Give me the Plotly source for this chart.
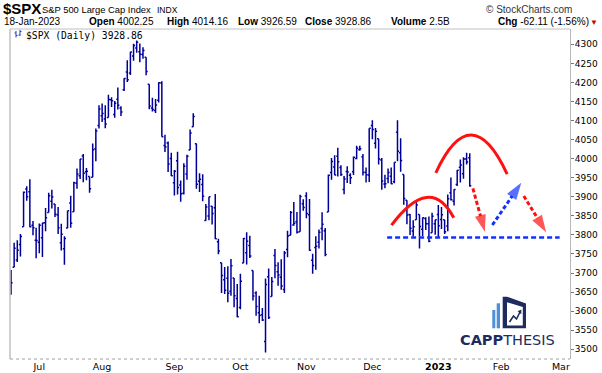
import plotly.graph_objects as go
import pandas as pd

# ---------------- data ----------------
holidays = ["2022-06-20", "2022-07-04", "2022-09-05", "2022-11-24", "2022-12-26",
            "2023-01-02", "2023-01-16", "2023-02-20"]
calendar = [d for d in pd.bdate_range("2022-06-17", "2023-03-10")
            if d.strftime("%Y-%m-%d") not in holidays]

opens = [
    3665.90, 3715.31, 3733.89, 3774.71, 3821.75, 3920.76, 3913.00, 3825.09, 3785.99,
    3781.00, 3792.61, 3831.98, 3858.85, 3888.26, 3880.94, 3851.95, 3779.67, 3763.99, 3818.00,
    3883.79, 3860.73, 3935.32, 3955.47, 4007.36, 3965.72, 3953.22, 3951.43, 4026.13, 4087.33,
    4112.38, 4104.21, 4107.96, 4154.85, 4115.87, 4155.93, 4133.11, 4181.02, 4227.40, 4225.02,
    4269.37, 4290.46, 4280.40, 4273.13, 4266.31, 4195.08, 4133.09, 4126.55, 4153.26, 4198.74,
    4034.58, 4041.25, 4000.67,
    3936.73, 3994.66, 3930.89, 3909.43, 3959.94, 4022.94, 4083.67, 4039.00, 3940.73, 3932.41,
    3838.00, 3849.91, 3875.23, 3871.40, 3782.36, 3727.14, 3682.72, 3686.44, 3651.94, 3687.01,
    3633.48,
    3609.78, 3726.46, 3753.25, 3771.97, 3706.74, 3647.51, 3595.86, 3590.83, 3520.37, 3690.41,
    3638.65, 3746.26, 3703.11, 3689.05, 3657.10, 3762.01, 3799.44, 3825.97, 3834.69, 3808.26,
    3881.85,
    3901.79, 3852.90, 3733.25, 3766.98, 3780.71, 3817.02, 3810.94, 3859.89, 3963.72, 3977.97,
    4006.41, 3976.82, 3919.26, 3966.39, 3956.23, 3965.51, 4000.30, 4023.34, 4005.36, 3964.19,
    3957.18,
    4087.14, 4040.17, 4052.02, 3996.63, 3933.28, 3947.79, 3954.17, 3939.29, 4069.38, 4015.54,
    3958.37, 3890.91, 3853.79, 3810.47, 3839.49, 3853.26, 3815.11, 3843.34, 3829.56, 3805.45,
    3829.06,
    3853.29, 3840.36, 3839.74, 3823.37, 3910.82, 3888.57, 3932.35, 3977.57, 3960.60, 3999.28,
    4002.25,
]
highs = [
    3707.71, 3779.65, 3785.99, 3802.58, 3913.65, 3927.72, 3945.86, 3836.50, 3818.99,
    3829.82, 3832.19, 3870.91, 3910.63, 3918.50, 3880.94, 3873.41, 3829.44, 3796.41, 3863.62,
    3902.44, 3939.81, 3974.13, 3999.29, 4012.44, 3975.30, 3953.22, 4039.56, 4078.95, 4140.15,
    4144.95, 4140.47, 4167.66, 4161.29, 4151.58, 4186.62, 4137.30, 4211.03, 4257.91, 4280.47,
    4301.79, 4325.28, 4302.18, 4292.53, 4266.31, 4195.08, 4159.77, 4156.56, 4200.54, 4203.04,
    4062.99, 4044.98, 4015.37,
    3970.23, 4018.43, 3942.55, 3987.89, 4010.50, 4076.81, 4119.28, 4040.00, 3961.94, 3959.14,
    3880.95, 3900.45, 3876.01, 3907.07, 3790.17, 3727.14, 3715.67, 3717.53, 3736.74, 3687.01,
    3671.44,
    3698.35, 3791.92, 3806.91, 3797.93, 3706.74, 3652.17, 3640.66, 3608.34, 3685.41, 3712.00,
    3689.73, 3762.79, 3728.58, 3736.00, 3757.89, 3810.74, 3862.85, 3886.15, 3859.95, 3905.42,
    3893.73,
    3911.79, 3894.44, 3750.59, 3796.34, 3813.95, 3859.40, 3818.20, 3958.33, 4001.48, 4008.97,
    4028.84, 3983.09, 3954.33, 3979.89, 3962.00, 4005.88, 4033.78, 4034.02, 4012.27, 3976.77,
    4080.11,
    4100.51, 4080.48, 4052.45, 4001.51, 3957.57, 3974.19, 3977.02, 3990.71, 4100.96, 4053.76,
    3958.37, 3890.91, 3854.86, 3838.24, 3889.82, 3853.26, 3845.80, 3846.65, 3848.32, 3858.19,
    3839.85,
    3878.46, 3873.16, 3839.74, 3906.19, 3950.57, 3919.83, 3970.07, 3997.76, 4003.95, 4015.39,
    4014.16,
]
lows = [
    3643.27, 3715.31, 3729.25, 3743.52, 3821.75, 3889.66, 3820.14, 3799.02, 3738.67,
    3752.10, 3742.06, 3809.37, 3858.85, 3869.34, 3847.22, 3802.36, 3759.07, 3721.56, 3817.18,
    3818.63, 3860.73, 3921.03, 3946.71, 3938.24, 3943.46, 3910.74, 3951.43, 3992.97, 4079.22,
    4096.02, 4079.81, 4107.96, 4135.42, 4107.31, 4128.97, 4112.09, 4177.26, 4201.41, 4219.78,
    4256.90, 4277.77, 4253.08, 4261.98, 4218.70, 4129.86, 4124.03, 4119.97, 4147.59, 4057.66,
    4017.42, 3965.21, 3954.53,
    3903.65, 3906.21, 3886.75, 3906.03, 3944.81, 4022.94, 4083.67, 3921.35, 3912.46, 3888.28,
    3837.08, 3838.50, 3827.54, 3789.49, 3749.45, 3647.47, 3644.76, 3623.29, 3640.61, 3610.40,
    3584.13,
    3604.93, 3726.46, 3722.66, 3739.22, 3627.92, 3588.10, 3568.45, 3573.86, 3491.58, 3579.68,
    3638.65, 3686.53, 3666.51, 3656.44, 3647.42, 3741.65, 3799.44, 3824.07, 3803.79, 3808.26,
    3863.18,
    3843.80, 3758.68, 3698.15, 3708.84, 3764.70, 3786.28, 3744.22, 3859.89, 3944.82, 3956.40,
    3953.17, 3954.34, 3906.54, 3935.98, 3933.34, 3956.88, 3998.66, 4020.76, 3955.77, 3937.65,
    3938.58,
    4050.87, 4026.63, 3984.49, 3918.39, 3922.68, 3935.83, 3933.04, 3935.30, 3993.03, 3965.65,
    3879.45, 3827.91, 3800.04, 3795.62, 3839.49, 3764.49, 3797.01, 3813.22, 3780.78, 3805.45,
    3800.34,
    3794.33, 3815.77, 3802.42, 3809.56, 3890.42, 3877.29, 3928.54, 3937.56, 3947.67, 3984.57,
    3926.59,
]
closes = [
    3674.84, 3764.79, 3759.89, 3795.73, 3911.74, 3900.11, 3821.55, 3818.83, 3785.38,
    3825.33, 3831.39, 3845.08, 3902.62, 3899.38, 3854.43, 3818.80, 3801.78, 3790.38, 3863.16,
    3830.85, 3936.69, 3959.90, 3998.95, 3961.63, 3966.84, 3921.05, 4023.61, 4072.43, 4130.29,
    4118.63, 4091.19, 4155.17, 4151.94, 4145.19, 4140.06, 4122.47, 4210.24, 4207.27, 4280.15,
    4297.14, 4305.20, 4274.04, 4283.74, 4228.48, 4137.99, 4128.73, 4140.77, 4199.12, 4057.66,
    4030.61, 3986.16, 3955.00,
    3966.85, 3924.26, 3908.19, 3979.87, 4006.18, 4067.36, 4110.41, 3932.69, 3946.01, 3901.35,
    3873.33, 3899.89, 3855.93, 3789.93, 3757.99, 3693.23, 3655.04, 3647.29, 3719.04, 3640.47,
    3585.62,
    3678.43, 3790.93, 3783.28, 3744.52, 3639.66, 3612.39, 3588.84, 3577.03, 3669.91, 3583.07,
    3677.95, 3719.98, 3695.16, 3665.78, 3752.75, 3797.34, 3859.11, 3830.60, 3807.30, 3901.06,
    3871.98,
    3856.10, 3759.69, 3719.89, 3770.55, 3806.80, 3828.11, 3748.57, 3956.37, 3992.93, 3957.25,
    3991.73, 3958.79, 3946.56, 3965.34, 3949.94, 4003.58, 4027.26, 4026.12, 3963.94, 3957.63,
    4080.11,
    4076.57, 4071.70, 3998.84, 3941.26, 3933.92, 3963.51, 3934.38, 3990.56, 4019.65, 3995.32,
    3895.75, 3852.36, 3817.66, 3821.62, 3878.44, 3822.39, 3844.82, 3829.25, 3783.22, 3849.28,
    3839.50,
    3824.14, 3852.97, 3808.10, 3895.08, 3892.09, 3919.25, 3969.61, 3983.17, 3999.09, 3990.97,
    3928.86,
]

month_ticks = [(2022, 7), (2022, 8), (2022, 9), (2022, 10), (2022, 11), (2022, 12),
               (2023, 1), (2023, 2), (2023, 3)]
month_labels = ["Jul", "Aug", "Sep", "Oct", "Nov", "Dec", "<b>2023</b>", "Feb", "Mar"]

support_level = 3793
y_ticks = list(range(3500, 4301, 50))

# ---------------- figure ----------------
n = len(closes)
xs = list(range(n))
tickvals = []
for (yy, mm) in month_ticks:
    for i, d in enumerate(calendar):
        if d.year == yy and d.month == mm:
            tickvals.append(i)
            break

NAVY = "#000099"
RED = "#ff1010"
BLUE = "#1030ff"

fig = go.Figure()
fig.add_trace(go.Ohlc(
    x=xs, open=opens, high=highs, low=lows, close=closes,
    increasing=dict(line=dict(color=NAVY, width=1.5)),
    decreasing=dict(line=dict(color=NAVY, width=1.5)),
    tickwidth=0.5, hoverinfo="skip", showlegend=False,
))

# arrows (dashed with head)
arrows = [
    ([147.0, 150.8], [3922, 3808], RED),
    ([153.2, 162.4], [3826, 3937], BLUE),
    ([163.2, 170.3], [3902, 3807], RED),
]
for ax_, ay_, col in arrows:
    fig.add_trace(go.Scatter(
        x=ax_, y=ay_, mode="lines+markers",
        line=dict(color=col, width=3, dash="4px,2.5px"),
        marker=dict(symbol=["circle", "arrow"], size=[0, 18], color=col,
                    angleref="previous", line=dict(width=0)),
        hoverinfo="skip", showlegend=False, cliponaxis=False,
    ))

X0, X1, Y0, Y1 = 10, 570, 29, 359  # plot area in pixels
def px(p):
    return (p - X0) / (X1 - X0)
def py(p):
    return (Y1 - p) / (Y1 - Y0)

shapes = []
# arcs
shapes.append(dict(type="path", xref="x", yref="y",
                   path="M 121.1,3825.7 Q 133.4,3961.5 140.9,3845",
                   line=dict(color=RED, width=3)))
shapes.append(dict(type="path", xref="x", yref="y",
                   path="M 135.2,3963 Q 146.45,4162.7 157.9,3959.5",
                   line=dict(color=RED, width=3)))
# support
shapes.append(dict(type="line", xref="x", yref="y", x0=119.7, x1=174.6,
                   y0=support_level, y1=support_level,
                   line=dict(color=BLUE, width=2.5, dash="5px,3px")))
# legend box cover + frame
shapes.append(dict(type="rect", xref="paper", yref="paper", x0=px(10.5), x1=px(150),
                   y0=py(40.5), y1=py(29.5), fillcolor="white", line=dict(width=0), layer="above"))
shapes.append(dict(type="line", xref="paper", yref="paper", x0=0, x1=1, y0=1, y1=1,
                   line=dict(color="#c0c0c0", width=1)))
shapes.append(dict(type="line", xref="paper", yref="paper", x0=0, x1=0, y0=0, y1=1,
                   line=dict(color="#c0c0c0", width=1.5)))
shapes.append(dict(type="line", xref="paper", yref="paper", x0=0, x1=1, y0=0, y1=0,
                   line=dict(color="#a0a0a0", width=1, dash="dot")))
# legend icon
for (xa, ya, yb) in [(16, 31, 37.5), (20, 30, 36)]:
    shapes.append(dict(type="line", xref="paper", yref="paper", x0=px(xa), x1=px(xa),
                       y0=py(yb), y1=py(ya), line=dict(color="#2040c0", width=1), layer="above"))
for (xa, xb, yy) in [(14.5, 16, 33), (16, 17.5, 35.5), (18.5, 20, 35), (20, 21.5, 31.5)]:
    shapes.append(dict(type="line", xref="paper", yref="paper", x0=px(xa), x1=px(xb),
                       y0=py(yy), y1=py(yy), line=dict(color="#2040c0", width=1), layer="above"))

# logo
LOGO_NAVY = "#1e2b5e"
LOGO_BLUE = "#4e8fd8"
shapes.append(dict(type="rect", xref="paper", yref="paper", x0=px(492.3), x1=px(495.3),
                   y0=py(328.3), y1=py(310), fillcolor=LOGO_BLUE, line=dict(width=0)))
shapes.append(dict(type="rect", xref="paper", yref="paper", x0=px(496.7), x1=px(500),
                   y0=py(328.3), y1=py(303.3), fillcolor=LOGO_BLUE, line=dict(width=0)))
def ppath(pts):
    return "M " + " L ".join(f"{px(a):.5f},{py(b):.5f}" for a, b in pts) + " Z"
shapes.append(dict(type="path", xref="paper", yref="paper",
                   path=ppath([(502.7, 296.7), (507, 296.7), (526, 303.5), (526, 328.3), (502.7, 328.3)]),
                   fillcolor=LOGO_NAVY, line=dict(width=0)))
shapes.append(dict(type="path", xref="paper", yref="paper",
                   path=ppath([(507, 302.3), (522.8, 307), (522.8, 325.5), (507, 325.5)]),
                   fillcolor="white", line=dict(width=0)))
shapes.append(dict(type="path", xref="paper", yref="paper",
                   path="M " + " L ".join(f"{px(a):.5f},{py(b):.5f}" for a, b in
                                          [(509.5, 322), (513.5, 316), (516.5, 319), (520, 312)]),
                   line=dict(color=LOGO_NAVY, width=1.6)))
shapes.append(dict(type="path", xref="paper", yref="paper",
                   path=ppath([(521.3, 309.5), (517.6, 311.3), (521.3, 314.2)]),
                   fillcolor=LOGO_NAVY, line=dict(width=0)))

annotations = []
def add_text(text, x, y, size, family="Liberation Sans, Arial", color="#000",
             xanchor="left"):
    annotations.append(dict(text=text, xref="paper", yref="paper", x=px(x), y=py(y),
                            xanchor=xanchor, yanchor="middle", showarrow=False,
                            font=dict(size=size, family=family, color=color),
                            borderpad=0))

add_text("<b>$SPX</b>", 2, 8.5, 15)
add_text("S&P 500 Large Cap Index", 41, 9, 9.4)
add_text("INDX", 156, 9.5, 8.5)
add_text("© StockCharts.com", 573, 9, 10, color="#333", xanchor="right")
add_text("18-Jan-2023", 3, 22, 10)
fields = [("Open", "4002.25", 88), ("High", "4014.16", 166), ("Low", "3926.59", 237),
          ("Close", "3928.86", 304), ("Volume", "2.5B", 390)]
for lab, val, xx in fields:
    add_text(f"<b>{lab}</b> {val}", xx, 22, 10)
add_text("<b>Chg</b> -62.11 (-1.56%)", 590, 22, 10, xanchor="right")
add_text("▼", 599, 22.5, 8, color="#cc0000", xanchor="right")
add_text("$SPX (Daily) 3928.86", 25, 35, 9.7, family="DejaVu Sans Mono")
add_text("<b>CAPP</b>THESIS", 507.5, 340, 14.5, family="DejaVu Sans", color=LOGO_NAVY,
         xanchor="center")

fig.update_layout(
    width=602, height=373,
    margin=dict(l=X0, r=602 - X1, t=Y0, b=373 - Y1, pad=0, autoexpand=False),
    paper_bgcolor="white", plot_bgcolor="white",
    shapes=shapes, annotations=annotations,
    xaxis=dict(range=[-0.32, 177.9], tickvals=tickvals, ticktext=month_labels,
               showgrid=False, zeroline=False, showline=False, ticks="",
               rangeslider=dict(visible=False),
               tickfont=dict(size=9.5, family="DejaVu Sans", color="#000")),
    yaxis=dict(range=[3474.5, 4340.2], side="right", tickvals=y_ticks,
               showgrid=False, zeroline=False, showline=True, linecolor="#b8b8b8",
               linewidth=1, ticks="outside", ticklen=3, tickcolor="#777",
               ticklabelstandoff=-1,
               tickfont=dict(size=9, family="DejaVu Sans", color="#000")),
    showlegend=False,
)

fig.write_html("out.html", config={"displayModeBar": False},
               post_script="document.body.style.margin='0';document.body.style.overflow='hidden';")
